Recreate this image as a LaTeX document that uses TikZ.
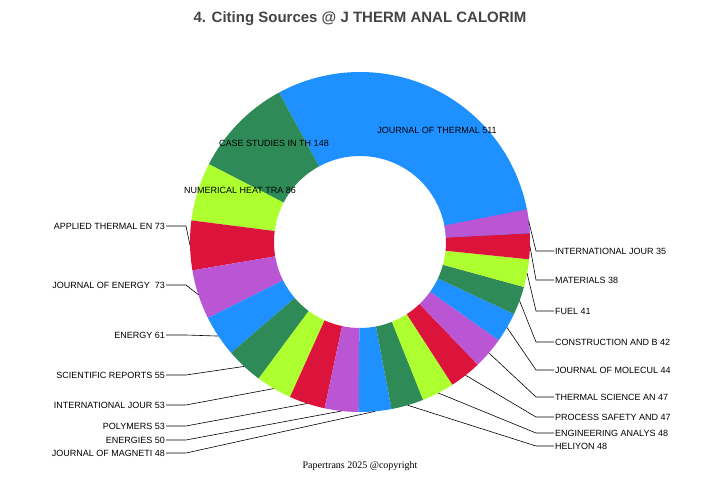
\documentclass[tikz,border=0pt]{standalone}
\usepackage{fontspec}
\setmainfont{Liberation Sans}
\newfontfamily\footfont{Liberation Serif}
\usetikzlibrary{positioning}
\definecolor{slblue}{RGB}{30, 144, 255}
\definecolor{slgreen}{RGB}{46, 139, 87}
\definecolor{slyellow}{RGB}{173, 255, 47}
\definecolor{slred}{RGB}{220, 20, 60}
\definecolor{slorchid}{RGB}{186, 85, 211}
\definecolor{titlegrey}{RGB}{68, 68, 68}
\tikzset{
    lbl/.style={font=\fontsize{9}{10}\selectfont, inner sep=1pt},
    leader/.style={draw=black, line width=0.6pt}
}
\begin{document}
\begin{tikzpicture}[x=1pt, y=1pt]
    \useasboundingbox (0,0) rectangle (720,480);
    % donut slices, counterclockwise from east
    \def\acc{0}
    \begin{scope}[shift={(360,238)}]
    \foreach \v/\c [count=\i] in {511/slblue, 148/slgreen, 86/slyellow, 73/slred, 73/slorchid,
        61/slblue, 55/slgreen, 53/slyellow, 53/slred, 50/slorchid, 48/slblue, 48/slgreen,
        48/slyellow, 47/slred, 47/slorchid, 44/slblue, 42/slgreen, 41/slyellow, 38/slred, 35/slorchid}{
        \pgfmathsetmacro\aend{\acc+\v/1553*360}
        \pgfmathsetmacro\amid{(\acc+\aend)/2}
        \fill[\c] (\acc:170) arc[start angle=\acc, end angle=\aend, radius=170]
            -- (\aend:86) arc[start angle=\aend, end angle=\acc, radius=86] -- cycle;
        \coordinate (s\i) at (\amid:170);
        \xdef\acc{\aend}
    }
    \end{scope}
    % labels inside
    \node[lbl] (l1) at (437,350) {JOURNAL OF THERMAL 511};
    \node[lbl] (l2) at (274,337) {CASE STUDIES IN TH 148};
    \node[lbl] (l3) at (240,290) {NUMERICAL HEAT TRA 86};
    % left labels
    \foreach \i/\y/\t in {4/254/APPLIED THERMAL EN 73, 5/195/JOURNAL OF ENERGY \ 73, 6/145/ENERGY 61,
        7/105/SCIENTIFIC REPORTS 55, 8/75/INTERNATIONAL JOUR 53, 9/54/POLYMERS 53,
        10/40/ENERGIES 50, 11/27/JOURNAL OF MAGNETI 48}{
        \node[lbl, anchor=east] (l\i) at (166,\y) {\t};
        \coordinate (e\i) at (186,\y);
        \draw[leader] (s\i) -- (e\i) -- (l\i.east);
    }
    % right labels
    \foreach \i/\y/\t in {12/34/HELIYON 48, 13/47/ENGINEERING ANALYS 48, 14/63/PROCESS SAFETY AND 47,
        15/83/THERMAL SCIENCE AN 47, 16/110/JOURNAL OF MOLECUL 44, 17/138/CONSTRUCTION AND B 42,
        18/169/FUEL 41, 19/200/MATERIALS 38, 20/229/INTERNATIONAL JOUR 35}{
        \node[lbl, anchor=west] (l\i) at (554,\y) {\t};
        \coordinate (e\i) at (536,\y);
        \draw[leader] (s\i) -- (e\i) -- (l\i.west);
    }
    \node[font=\bfseries\fontsize{15}{18}\selectfont, text=titlegrey] (title) at (360,461) {4. Citing Sources @ J THERM ANAL CALORIM};
    \node[font=\footfont\fontsize{10}{12}\selectfont] (foot) at (360,14) {Papertrans 2025 @copyright};
\end{tikzpicture}
\end{document}
